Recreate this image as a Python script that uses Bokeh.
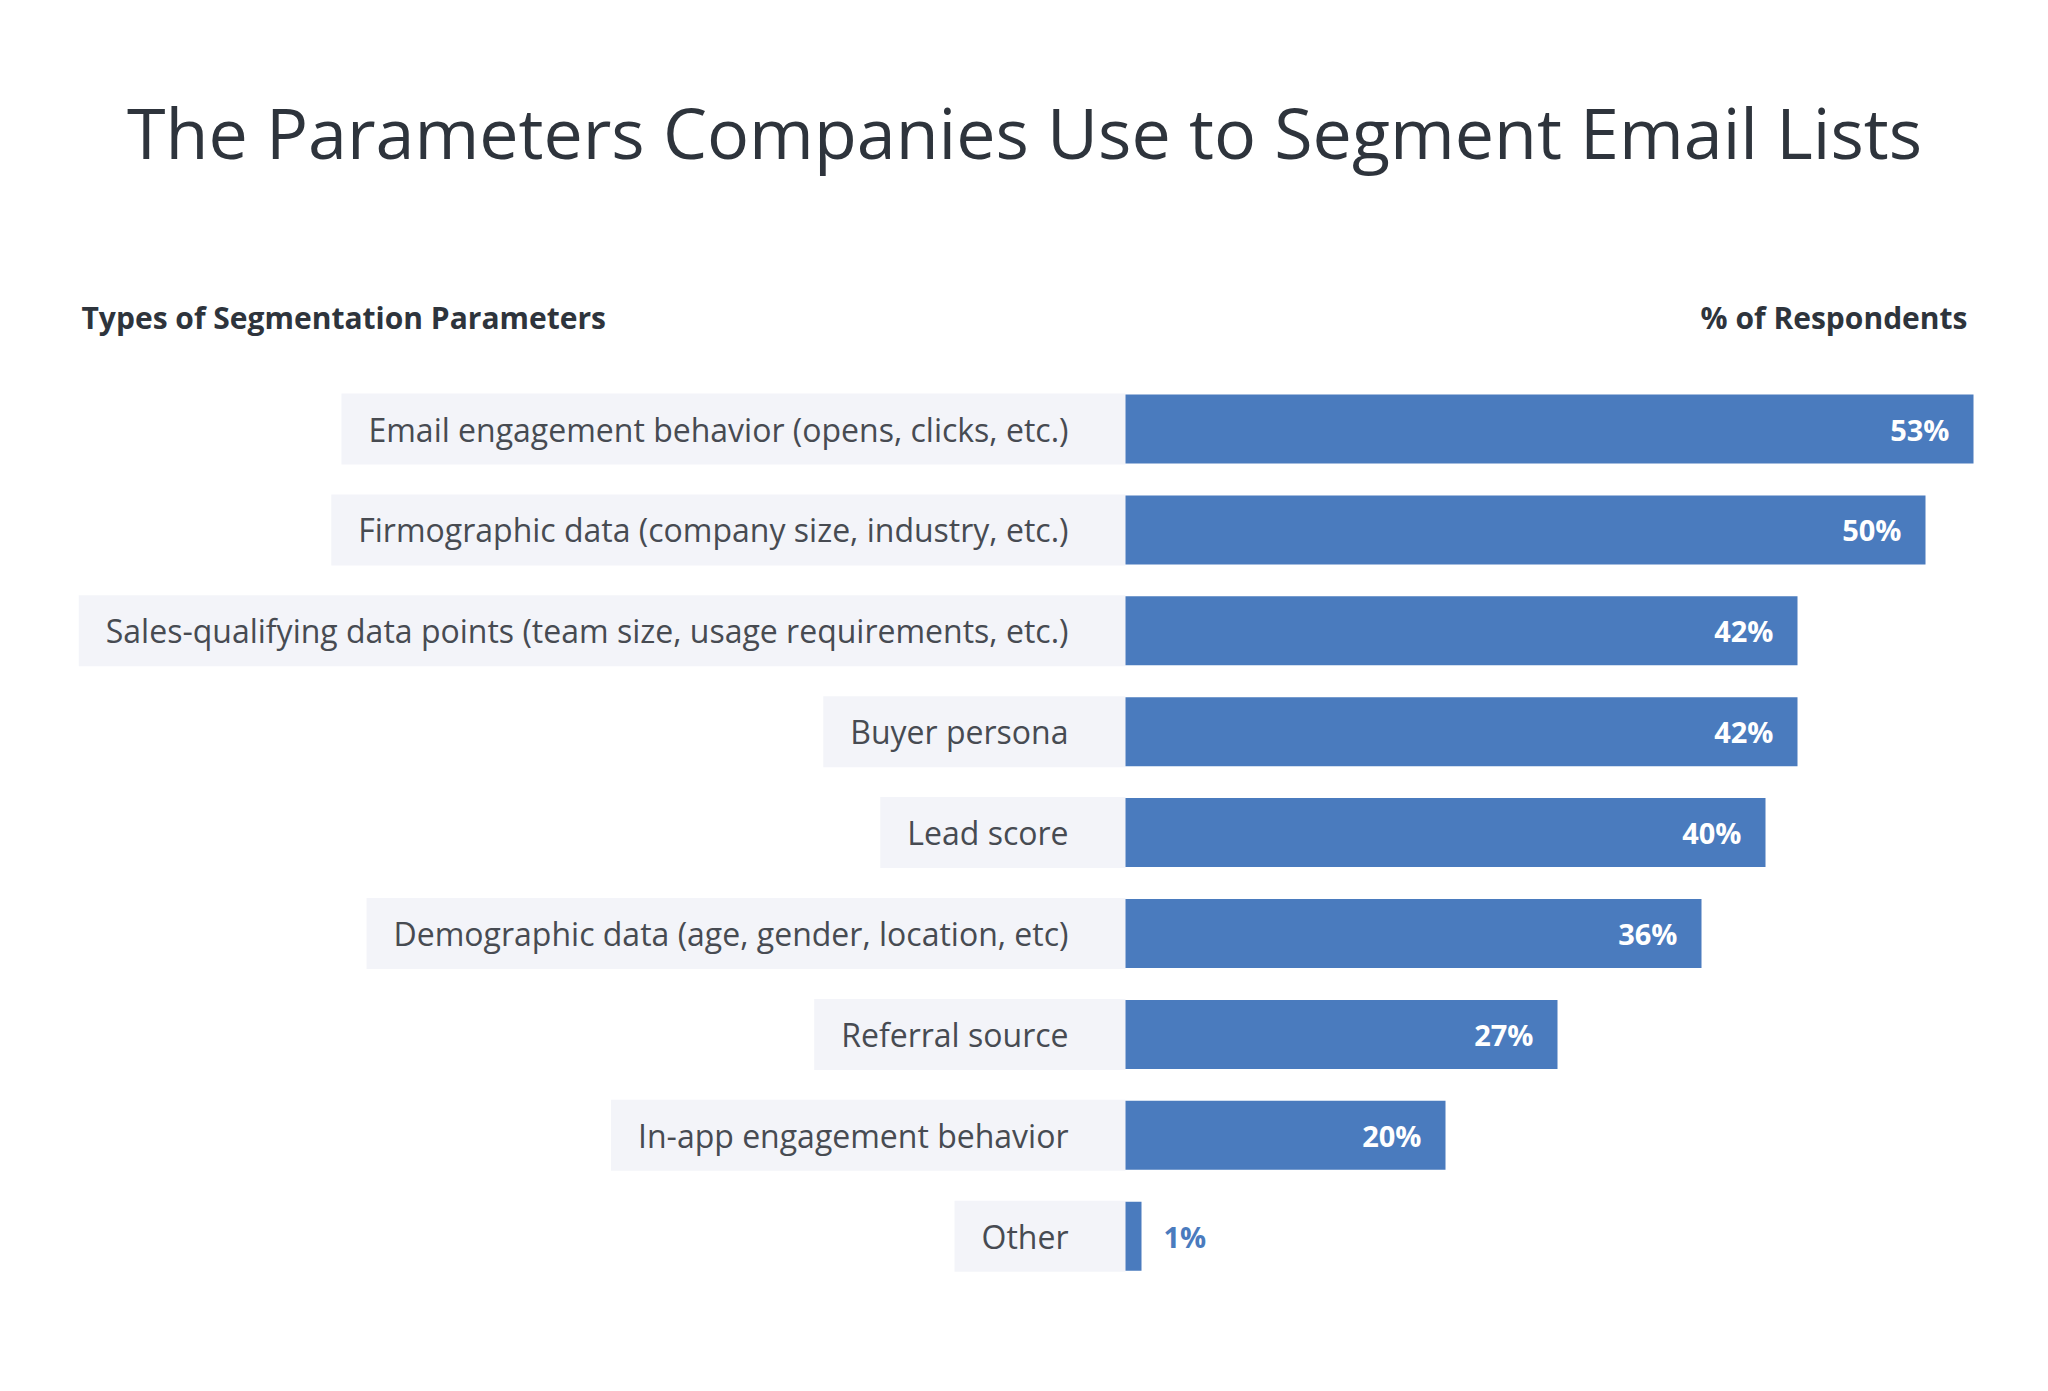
from bokeh.plotting import figure
from bokeh.models import Range1d, Label, ColumnDataSource
from bokeh.core.properties import value
from bokeh.embed import file_html
from bokeh.resources import INLINE

# ---- data ----
categories = [
    "Email engagement behavior (opens, clicks, etc.)",
    "Firmographic data (company size, industry, etc.)",
    "Sales-qualifying data points (team size, usage requirements, etc.)",
    "Buyer persona",
    "Lead score",
    "Demographic data (age, gender, location, etc)",
    "Referral source",
    "In-app engagement behavior",
    "Other",
]
values = [53, 50, 42, 42, 40, 36, 27, 20, 1]
title_text = "The Parameters Companies Use to Segment Email Lists"
left_header = "Types of Segmentation Parameters"
right_header = "% of Respondents"

# ---- layout ----
W, H = 2048, 1391
PX_PER = 16.0      # pixels per percentage point
X0 = 1125          # pixel x of the 0% baseline
ROW0 = 428.5       # pixel y (from top) of first row centre
PITCH = 100.9      # pixels between rows
BAR_H = 69 / PITCH

FONT = "Open Sans"
DARK = "#2e343c"
LABEL_C = "#474b52"
BLUE = "#4a7bbe"
BOX = "#f3f4f9"

rows = list(range(len(categories)))
inside = [v >= 5 for v in values]
src = ColumnDataSource(dict(
    y=rows,
    cat=categories,
    v=values,
    zero=[0] * len(values),
))
src_in = ColumnDataSource(dict(
    y=[r for r, i in zip(rows, inside) if i],
    v=[v for v, i in zip(values, inside) if i],
    lab=[f"{v}%" for v, i in zip(values, inside) if i],
))
src_out = ColumnDataSource(dict(
    y=[r for r, i in zip(rows, inside) if not i],
    v=[v for v, i in zip(values, inside) if not i],
    lab=[f"{v}%" for v, i in zip(values, inside) if not i],
))

p = figure(
    width=W, height=H, output_backend="svg", toolbar_location=None,
    x_range=Range1d(-X0 / PX_PER, (W - X0) / PX_PER),
    y_range=Range1d((H - ROW0) / PITCH, -ROW0 / PITCH),
    min_border=0, x_axis_location=None, y_axis_location=None,
    outline_line_color=None, background_fill_color="white",
    border_fill_color="white",
)
p.grid.visible = False

# category labels with light background boxes
p.text(
    x="zero", y="y", text="cat", source=src,
    text_font=value(FONT), text_font_size="32px", text_color=LABEL_C,
    text_align="right", text_baseline="middle",
    background_fill_color=BOX,
    padding=dict(left=27, right=57, top=14, bottom=14),
)

# bars
p.hbar(y="y", left=0, right="v", height=BAR_H, source=src,
       fill_color=BLUE, line_color=None)

# value labels
p.text(x="v", y="y", text="lab", source=src_in, x_offset=-24,
       text_font=value(FONT), text_font_size="29px", text_font_style="bold",
       text_color="white", text_align="right", text_baseline="middle")
p.text(x="v", y="y", text="lab", source=src_out, x_offset=22,
       text_font=value(FONT), text_font_size="29px", text_font_style="bold",
       text_color=BLUE, text_align="left", text_baseline="middle")

# title and headers
p.add_layout(Label(x=W / 2, y=H - 131, x_units="screen", y_units="screen",
                   text=title_text, text_font=FONT, text_font_size="70px",
                   text_color=DARK, text_align="center",
                   text_baseline="alphabetic"))
p.add_layout(Label(x=81, y=H - 317, x_units="screen", y_units="screen",
                   text=left_header, text_font=FONT, text_font_size="30px",
                   text_font_style="bold", text_color=DARK,
                   text_align="left", text_baseline="alphabetic"))
p.add_layout(Label(x=1967, y=H - 317, x_units="screen", y_units="screen",
                   text=right_header, text_font=FONT, text_font_size="30px",
                   text_font_style="bold", text_color=DARK,
                   text_align="right", text_baseline="alphabetic"))

open("out.html", "w").write(file_html(p, INLINE))
